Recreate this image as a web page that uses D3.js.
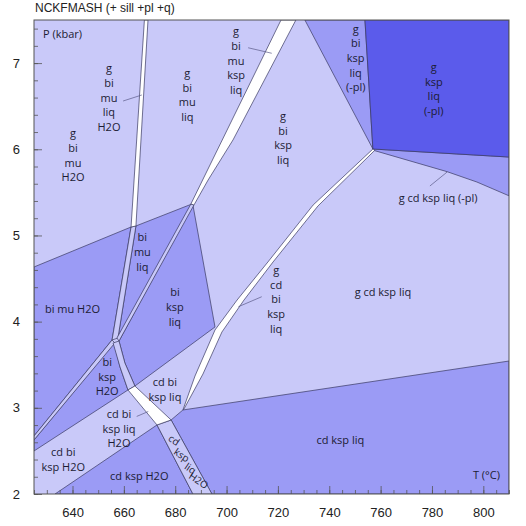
<!DOCTYPE html>
<html><head><meta charset="utf-8">
<script src="https://cdn.jsdelivr.net/npm/d3@7/dist/d3.min.js"></script>
<style>body{margin:0;background:#fff}</style>
</head><body>
<svg id="c" width="526" height="526"></svg>
<script>
// ---- axes data ----
const tDomain = [625, 810];
const pDomain = [2, 7.5];
const tTicks = [640, 660, 680, 700, 720, 740, 760, 780, 800];
const pTicks = [2, 3, 4, 5, 6, 7];
const tMinor = d3.range(625, 811, 5);
const pMinor = d3.range(2, 7.5, 0.2);

// ---- field polygons [T (°C), P (kbar)] ----
// medium-variance fields
const biMuH2O = [[625,4.634],[662.8,5.098],[655.4,3.787],[625,2.673]];
const biMuLiq = [[664.7,5.11],[686.5,5.365],[657.7,3.81]];
const biKspLiq = [[686.9,5.353],[695.5,3.938],[664.3,3.253],[660.4,3.52],[658.1,3.775]];
const biKspH2O = [[625,2.627],[656.2,3.752],[658.5,3.474],[661.6,3.207],[625,2.499]];
const cdKspH2O = [[633.2,2],[672.9,2.801],[686.9,2]];
const cdKspLiq = [[678.4,2.859],[683.0,2.975],[810,3.543],[810,2],[694.3,2]];
const gBiKspLiqPl = [[730.5,7.5],[753.9,7.5],[757.0,6.003]];
const gCdKspLiqPl = [[757.0,6.003],[810,5.91],[810,5.46],[797.5,5.62],[785.9,5.74],[757.0,5.99]];
// low-variance field
const gKspLiqPl = [[753.9,7.5],[810,7.5],[810,5.91],[757.0,6.003]];
// narrow light fields
const biMuLiqH2O = [[662.8,5.098],[664.7,5.11],[657.7,3.81],[655.4,3.787]];
const biMuKspLiq = [[686.1,5.365],[687.3,5.353],[658.1,3.775],[657.3,3.81]];
const biMuKspH2O = [[625,2.673],[655.4,3.787],[656.5,3.752],[625,2.627]];
const biKspLiqH2O = [[655.8,3.752],[658.1,3.775],[660.4,3.52],[664.3,3.253],[661.6,3.207],[658.5,3.474]];
const cdKspLiqH2O = [[672.9,2.801],[678.4,2.859],[694.3,2],[686.9,2]];
// narrow white fields
const gBiMuLiqH2O = [[668.0,7.5],[669.4,7.5],[664.7,5.11],[662.8,5.098]];
const gBiMuKspLiq = [[721.2,7.5],[727.0,7.5],[702.5,6.108],[692.8,5.643],[687.3,5.353],[686.1,5.365]];
const gCdBiKspLiq = [[757.0,6.003],[733.7,5.353],[716.1,4.692],[704.1,4.251],[695.5,3.903],[687.7,3.369],[683.0,2.975],[683.4,2.986],[690.8,3.392],[698.2,3.880],[706.8,4.251],[718.1,4.692],[735.6,5.342],[757.8,5.99]];
const cdBiKspLiqH2O = [[661.6,3.207],[664.3,3.253],[678.4,2.859],[672.9,2.801]];

const mediumFields = [biMuH2O, biMuLiq, biKspLiq, biKspH2O, cdKspH2O, cdKspLiq, gBiKspLiqPl, gCdKspLiqPl];
const darkFields = [gKspLiqPl];
const lightFields = [biMuLiqH2O, biMuKspLiq, biMuKspH2O, biKspLiqH2O, cdKspLiqH2O];
const whiteFields = [gBiMuLiqH2O, gBiMuKspLiq, gCdBiKspLiq, cdBiKspLiqH2O];

// ---- leader lines ----
const leaders = [
  [[659.7,6.56],[667.0,6.63]],
  [[708.4,7.178],[717.6,7.114]],
  [[713.7,4.289],[704.6,4.173]],
  [[665.0,2.90],[669.5,2.957]],
  [[779.2,5.574],[785.9,5.736]]
];

// ---- field labels: text lines, anchor T, P ----
const labelText = [
  "g|bi|mu|H2O", "g|bi|mu|liq|H2O", "g|bi|mu|liq", "g|bi|mu|ksp|liq",
  "g|bi|ksp|liq|(-pl)", "g|ksp|liq|(-pl)", "g|bi|ksp|liq", "g cd ksp liq (-pl)",
  "bi|mu|liq", "bi mu H2O", "bi|ksp|liq", "bi|ksp|H2O", "cd bi|ksp liq",
  "cd bi|ksp liq|H2O", "cd bi|ksp H2O", "cd ksp H2O", "g|cd|bi|ksp|liq",
  "g cd ksp liq", "cd ksp liq"
];
const labelT = [640.2, 654.2, 684.7, 703.7, 750.3, 780.7, 722.0, 782.4,
  667.2, 640.0, 679.9, 653.5, 676.0, 658.1, 636.4, 666.0, 719.3, 760.9, 744.3];
const labelP = [5.93, 6.60, 6.63, 7.03, 7.06, 6.70, 6.13, 5.44,
  4.81, 4.15, 4.17, 3.36, 3.21, 2.76, 2.40, 2.21, 4.26, 4.34, 2.63];
// rotated words along the cd ksp liq H2O band
const rotWords = ["cd", "ksp", "liq", "H2O"];
const rotT = [679.6, 682.6, 686.0, 689.2];
const rotP = [2.63, 2.455, 2.30, 2.16];

// ---- drawing ----
const svg = d3.select("#c");
const x = d3.scaleLinear().domain(tDomain).range([34, 509]);
const y = d3.scaleLinear().domain(pDomain).range([494, 20]);
const colLight = "#c9c9f9", colMed = "#9b9bf5", colDark = "#5b5beb", colWhite = "#ffffff";
const lineCol = "#3a3a62";

svg.append("defs").append("clipPath").attr("id", "clip")
  .append("rect").attr("x", x(tDomain[0])).attr("y", y(pDomain[1]))
  .attr("width", x(tDomain[1]) - x(tDomain[0])).attr("height", y(pDomain[0]) - y(pDomain[1]));

const plot = svg.append("g").attr("clip-path", "url(#clip)");
plot.append("rect").attr("x", x(tDomain[0])).attr("y", y(pDomain[1]))
  .attr("width", x(tDomain[1]) - x(tDomain[0])).attr("height", y(pDomain[0]) - y(pDomain[1]))
  .attr("fill", colLight);

const line = d3.line().x(d => x(d[0])).y(d => y(d[1]));
function drawPolys(list, fill) {
  plot.selectAll(null).data(list).enter().append("path")
    .attr("d", d => line(d) + "Z")
    .attr("fill", fill).attr("stroke", lineCol).attr("stroke-width", 0.7)
    .attr("stroke-linejoin", "round");
}
drawPolys(mediumFields, colMed);
drawPolys(darkFields, colDark);
drawPolys(lightFields, colLight);
drawPolys(whiteFields, colWhite);

plot.selectAll(null).data(leaders).enter().append("path")
  .attr("d", d => line(d)).attr("stroke", "#5a5a88").attr("stroke-width", 0.7).attr("fill", "none");

// labels
const lh = 14.7;
labelText.forEach((txt, i) => {
  const lines = txt.split("|");
  const t = plot.append("text").attr("font-family", "'Open Sans', sans-serif").attr("font-size", 11)
    .attr("fill", "#1c1c34").attr("text-anchor", "middle");
  lines.forEach((s, j) => {
    t.append("tspan").attr("x", x(labelT[i]))
      .attr("y", y(labelP[i]) + (j - (lines.length - 1) / 2) * lh + 4).text(s);
  });
});
rotWords.forEach((w, i) => {
  plot.append("text").attr("font-family", "'Open Sans', sans-serif").attr("font-size", 10)
    .attr("fill", "#1c1c34").attr("text-anchor", "middle").attr("dominant-baseline", "central")
    .attr("transform", `translate(${x(rotT[i])},${y(rotP[i])}) rotate(34)`).text(w);
});

// axes
const axG = svg.append("g");
const xMajor = d3.axisBottom(x).tickValues(tTicks).tickSizeInner(-8).tickSizeOuter(0).tickPadding(14).tickFormat(d3.format("d"));
const xMin = d3.axisBottom(x).tickValues(tMinor).tickSizeInner(-4).tickSizeOuter(0).tickFormat("");
const yMajor = d3.axisLeft(y).tickValues(pTicks).tickSizeInner(-8).tickSizeOuter(0).tickPadding(14).tickFormat(d3.format("d"));
const yMin = d3.axisLeft(y).tickValues(pMinor).tickSizeInner(-4).tickSizeOuter(0).tickFormat("");
[[xMin, "b"], [xMajor, "b"], [yMin, "l"], [yMajor, "l"]].forEach(([a, s]) => {
  const g = axG.append("g").attr("transform", s === "b" ? `translate(0,${y(pDomain[0])})` : `translate(${x(tDomain[0])},0)`).call(a);
  g.select(".domain").remove();
  g.selectAll(".tick line").attr("stroke", "#555").attr("stroke-width", 0.8);
  g.selectAll("text").attr("font-family", "'Liberation Sans', Arial, sans-serif").attr("font-size", 13).attr("fill", "#222");
});
svg.append("rect").attr("x", x(tDomain[0])).attr("y", y(pDomain[1]))
  .attr("width", x(tDomain[1]) - x(tDomain[0])).attr("height", y(pDomain[0]) - y(pDomain[1]))
  .attr("fill", "none").attr("stroke", "#555").attr("stroke-width", 1);

svg.append("text").attr("x", 35).attr("y", 12).attr("font-family", "'Liberation Sans', Arial, sans-serif")
  .attr("font-size", 12).attr("fill", "#222").text("NCKFMASH (+ sill +pl +q)");
svg.append("text").attr("x", 43).attr("y", 38).attr("font-family", "'Open Sans', sans-serif")
  .attr("font-size", 11).attr("fill", "#1c1c34").text("P (kbar)");
svg.append("text").attr("x", 500).attr("y", 479).attr("text-anchor", "end").attr("font-family", "'Open Sans', sans-serif")
  .attr("font-size", 11).attr("fill", "#1c1c34").text("T (°C)");
</script>
</body></html>
